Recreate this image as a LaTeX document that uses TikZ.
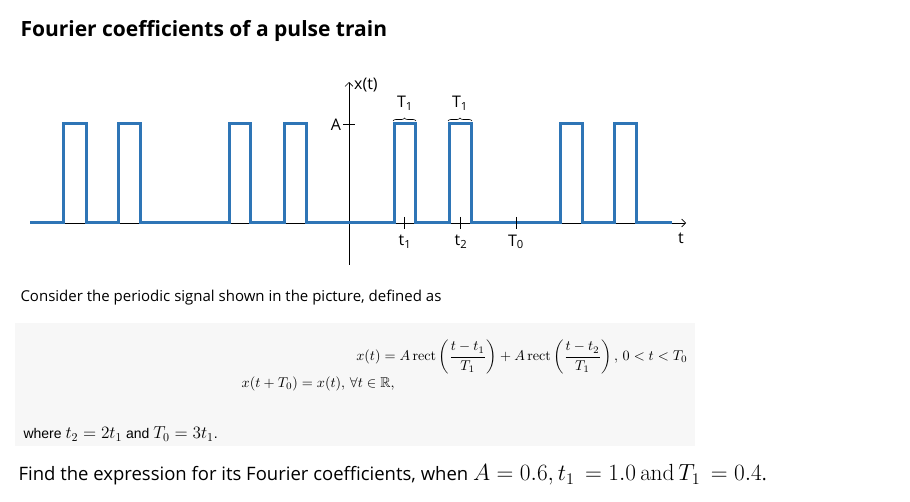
\documentclass[tikz,border=0pt]{standalone}
\usepackage{amsmath,amssymb}
\usepackage[no-math]{fontspec}
\setmainfont{Open Sans}
\newfontfamily\arialf{Liberation Sans}
\usetikzlibrary{decorations.pathreplacing,arrows.meta}
\definecolor{sigblue}{HTML}{2E75B6}
\begin{document}
\begin{tikzpicture}[x=1pt,y=-1pt,
  sig/.style={draw=sigblue,line width=3pt,line join=miter},
  ax/.style={draw=black,line width=0.6pt},
  lab/.style={font=\fontsize{16}{18}\selectfont,inner sep=0pt}]
\useasboundingbox (0,0) rectangle (910,502);
\fill[white] (0,0) rectangle (910,502);
\fill[gray!6] (15,323) rectangle (695,446);
\node[anchor=west,font=\bfseries\fontsize{21}{24}\selectfont] (title) at (17,31) {Fourier coefficients of a pulse train};
% axes
\coordinate (yb) at (349,265); \coordinate (yt) at (349,82);
\coordinate (xl) at (30,223); \coordinate (xr) at (686,223);
\draw[ax,-{Straight Barb[length=4pt]}] (yb) -- (yt);
\draw[ax,-{Straight Barb[length=4pt]}] (xl) -- (xr);
\draw[sig] (30,223) -- (63,223) -- (63,124) -- (86,124) -- (86,223) -- (118,223) -- (118,124) -- (140,124) -- (140,223)
 -- (229,223) -- (229,124) -- (250,124) -- (250,223) -- (284,223) -- (284,124) -- (306,124) -- (306,223)
 -- (394,223) -- (394,124) -- (415,124) -- (415,223) -- (449,223) -- (449,124) -- (471,124) -- (471,223)
 -- (560,223) -- (560,124) -- (582,124) -- (582,223) -- (614,223) -- (614,124) -- (636,124) -- (636,223) -- (672,223);
% ticks
\foreach \x in {404,460,516}{\draw[ax] (\x,217) -- (\x,229);}
\draw[ax] (343,124) -- (355,124);
\node[lab] (lt1) at (405,242) {t\textsubscript{1}};
\node[lab] (lt2) at (461,242) {t\textsubscript{2}};
\node[lab] (lT0) at (516,242) {T\textsubscript{0}};
\node[lab] (lt) at (681,238) {t};
\node[lab] (lA) at (336,125) {A};
\node[lab,anchor=west] (lx) at (354,85) {x(t)};
\draw[ax,decorate,decoration={brace,amplitude=3pt}] (393,121) -- (416,121);
\draw[ax,decorate,decoration={brace,amplitude=3pt}] (448,121) -- (472,121);
\node[lab] (b1) at (405,103) {T\textsubscript{1}};
\node[lab] (b2) at (460,103) {T\textsubscript{1}};
% text
\node[anchor=west,font=\fontsize{15}{18}\selectfont] (cons) at (17,298) {Consider the periodic signal shown in the picture, defined as};
\node[anchor=east] (eq1) at (691,357) {\scalebox{1.42}{$x(t) = A\,\mathrm{rect}\left(\dfrac{t-t_1}{T_1}\right) + A\,\mathrm{rect}\left(\dfrac{t-t_2}{T_1}\right),\, 0<t<T_0$}};
\node[anchor=east] (eq2) at (398,384) {\scalebox{1.42}{$x(t+T_0) = x(t),\, \forall t\in\mathbb{R},$}};
\node[anchor=west,font=\arialf\fontsize{14}{17}\selectfont] (wh) at (20,434) {where \scalebox{1.2}{$t_2 = 2t_1$} and \scalebox{1.2}{$T_0 = 3t_1$}.};
\node[anchor=west,font=\fontsize{18.5}{22}\selectfont] (find) at (15,475) {Find the expression for its Fourier coefficients, when \scalebox{1.35}{$A = 0.6, t_1\, = 1.0\,\mathrm{and}\, T_1\, = 0.4$}.};
\end{tikzpicture}
\end{document}
